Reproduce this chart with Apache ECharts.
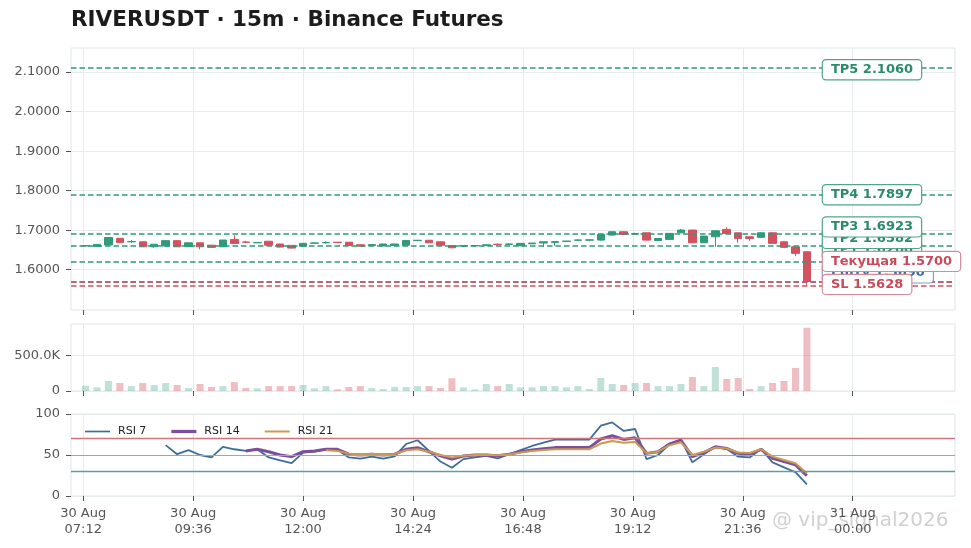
<!DOCTYPE html>
<html lang="ru">
<head>
    <meta charset="UTF-8">
    <title>RIVERUSDT 15m</title>
    <script src="https://cdn.jsdelivr.net/npm/echarts@6/dist/echarts.min.js"></script>
    <style>
        html, body { margin: 0; padding: 0; background: #ffffff; }
        #main { width: 971px; height: 548px; }
    </style>
</head>
<body>
<div id="main"></div>
<script>
    // candle open times, 30 Aug (15m)
    const times = ['07:15','07:30','07:45','08:00','08:15','08:30','08:45','09:00','09:15','09:30','09:45','10:00',
        '10:15','10:30','10:45','11:00','11:15','11:30','11:45','12:00','12:15','12:30','12:45','13:00',
        '13:15','13:30','13:45','14:00','14:15','14:30','14:45','15:00','15:15','15:30','15:45','16:00',
        '16:15','16:30','16:45','17:00','17:15','17:30','17:45','18:00','18:15','18:30','18:45','19:00',
        '19:15','19:30','19:45','20:00','20:15','20:30','20:45','21:00','21:15','21:30','21:45','22:00',
        '22:15','22:30','22:45','23:00'];

    const opens = [1.6600,1.6590,1.6625,1.6795,1.6705,1.6705,1.6580,1.6600,1.6735,1.6585,1.6680,1.6620,
        1.6580,1.6765,1.6700,1.6680,1.6720,1.6650,1.6615,1.6592,1.6668,1.6680,1.6695,1.6695,
        1.6630,1.6610,1.6600,1.6610,1.6620,1.6735,1.6745,1.6705,1.6610,1.6595,1.6600,1.6610,
        1.6645,1.6640,1.6605,1.6655,1.6675,1.6690,1.6715,1.6745,1.6748,1.6749,1.6876,1.6960,
        1.6900,1.6934,1.6740,1.6767,1.6934,1.7003,1.6681,1.6833,1.7020,1.6934,1.6833,1.6818,
        1.6934,1.6706,1.6580,1.6453];
    const highs = [1.6625,1.6650,1.6825,1.6800,1.6750,1.6710,1.6650,1.6740,1.6740,1.6690,1.6685,1.6625,
        1.6755,1.6875,1.6730,1.6695,1.6725,1.6655,1.6620,1.6670,1.6685,1.6720,1.6700,1.6700,
        1.6635,1.6640,1.6655,1.6655,1.6745,1.6750,1.6750,1.6710,1.6615,1.6615,1.6615,1.6635,
        1.6665,1.6670,1.6670,1.6680,1.6710,1.6715,1.6728,1.6770,1.6765,1.6905,1.6975,1.6975,
        1.6935,1.6940,1.6800,1.6925,1.7030,1.7010,1.6855,1.6995,1.7071,1.6940,1.6840,1.6940,
        1.6940,1.6710,1.6585,1.6460];
    const lows = [1.6590,1.6580,1.6620,1.6680,1.6680,1.6575,1.6555,1.6595,1.6575,1.6580,1.6515,1.6555,
        1.6575,1.6660,1.6680,1.6675,1.6615,1.6565,1.6535,1.6585,1.6665,1.6660,1.6680,1.6605,
        1.6590,1.6605,1.6595,1.6605,1.6615,1.6730,1.6675,1.6615,1.6540,1.6590,1.6595,1.6605,
        1.6615,1.6625,1.6600,1.6650,1.6580,1.6610,1.6712,1.6730,1.6720,1.6735,1.6870,1.6880,
        1.6885,1.6745,1.6720,1.6760,1.6925,1.6675,1.6675,1.6580,1.6910,1.6681,1.6732,1.6810,
        1.6660,1.6560,1.6344,1.5610];
    const closes = [1.6610,1.6640,1.6815,1.6685,1.6715,1.6580,1.6645,1.6735,1.6580,1.6680,1.6580,1.6565,
        1.6750,1.6665,1.6695,1.6690,1.6620,1.6572,1.6547,1.6666,1.6678,1.6690,1.6685,1.6610,
        1.6595,1.6635,1.6650,1.6650,1.6740,1.6745,1.6680,1.6620,1.6555,1.6610,1.6612,1.6630,
        1.6635,1.6650,1.6666,1.6675,1.6706,1.6710,1.6725,1.6752,1.6755,1.6894,1.6960,1.6890,
        1.6915,1.6749,1.6790,1.6919,1.7003,1.6681,1.6850,1.6985,1.6919,1.6792,1.6792,1.6934,
        1.6666,1.6565,1.6413,1.5700];

    const volumes = [75000,52000,142000,113000,70000,113000,85000,113000,85000,42000,99000,57000,
        70000,127000,42000,38000,70000,70000,70000,85000,38000,70000,23000,57000,
        70000,42000,28000,57000,57000,70000,70000,42000,180000,50000,23000,99000,
        70000,99000,52000,52000,70000,70000,52000,70000,28000,184000,99000,85000,
        113000,113000,70000,70000,99000,198000,70000,340000,170000,184000,28000,70000,
        113000,142000,326000,897000];

    const rsi7 = [null,null,null,null,null,null,null,62,51,56,50,47,
        60,57,55,57,47,43.5,40,53,54,56.5,56.5,47,
        45.5,48,45.5,48.4,63.4,68,55,42,34.5,45,47,49,
        46,51,56,61,65,68.7,68.7,68.7,68.7,85.7,89.8,79.3,
        81.7,45,50,63,69,41,51,60,57.3,48,47,57.3,
        41,35,29,14.3];
    const rsi14 = [null,null,null,null,null,null,null,null,null,null,null,null,
        null,null,55,57,54,50,48,54,55,57,57,51,
        50,51,50,51,57,59,54,49,45,48.8,50,50,
        49,51,54,56,57.7,59,59,59,59,69.5,73.5,69,
        71,52,54,63.4,68,48,53,60,58,52,51,57,
        46,42,38,24.8];
    const rsi21 = [null,null,null,null,null,null,null,null,null,null,null,null,
        null,null,null,null,null,null,null,null,null,55.7,55,51.6,
        51,51.2,51,51.2,55.7,57,54,50,47,49,50,50.4,
        49.7,51,53,55,56,57,57,57,57,64,67,65,
        66,52,54,62,65.5,50,54,59,58,53,52.5,57,
        48,44,40,27.7];
    const rsiLevels = [70, 50, 30];

    // trade levels, listed in drawing order
    const levelNames = ['TP1', 'Entry', 'TP2', 'TP3', 'TP4', 'TP5', 'Текущая', 'SL'];
    const levelValues = [1.6200, 1.5690, 1.6582, 1.6923, 1.7897, 2.1060, 1.5700, 1.5628];

    // x ticks: minutes from 30 Aug 00:00
    const xTickValues = [432, 576, 720, 864, 1008, 1152, 1296, 1440];
    const xTickLabels = ['30 Aug\n07:12', '30 Aug\n09:36', '30 Aug\n12:00', '30 Aug\n14:24',
        '30 Aug\n16:48', '30 Aug\n19:12', '30 Aug\n21:36', '31 Aug\n00:00'];
    const priceTicks = [1.6, 1.7, 1.8, 1.9, 2.0, 2.1];
    const volumeTicks = [0, 500000];
    const rsiTicks = [0, 50, 100];

    const GREEN = '#2f9b7b', RED = '#d4515f', BLUE = '#4a78b0';
    const GRID_LINE = '#e6ecee', BORDER = '#dfe6e9', TICK = '#555555';
    const FONT = 'DejaVu Sans';

    const toMin = t => { const p = t.split(':'); return (+p[0]) * 60 + (+p[1]); };
    const xs = times.map(toMin);
    const lastX = xs[xs.length - 1];

    const levelStyle = name => {
        if (name.indexOf('TP') === 0) return {line: GREEN, text: '#2a8a6c', border: '#4fa68b'};
        if (name === 'Entry') return {line: BLUE, text: '#3c6a9c', border: '#7f9fc4'};
        return {line: RED, text: '#c94b5b', border: '#d98a94'};
    };

    let container = document.getElementById('main');
    let chart = echarts.init(container);

    const candleData = xs.map((x, i) => [x, opens[i], closes[i], lows[i], highs[i]]);
    const volumeData = xs.map((x, i) => ({
        value: [x, volumes[i]],
        itemStyle: {color: closes[i] >= opens[i] ? 'rgba(47,155,123,0.3)' : 'rgba(212,81,95,0.38)'}
    }));
    const rsiPairs = arr => xs.map((x, i) => [x, arr[i]]).filter(p => p[1] !== null);

    const levelData = levelNames.map((n, i) => {
        const st = levelStyle(n);
        return {
            value: [lastX, levelValues[i]],
            label: {
                show: true, position: 'right', distance: 15,
                formatter: n + ' ' + levelValues[i].toFixed(4),
                color: st.text, fontSize: 13, fontWeight: 'bold', fontFamily: FONT,
                backgroundColor: '#ffffff', borderColor: st.border, borderWidth: 1.2,
                borderRadius: 3, padding: [3, 8, 3, 8], opacity: 1
            }
        };
    });

    function xAxisFor(idx) {
        return {
            type: 'value', gridIndex: idx, min: 416, max: 1574, interval: 144,
            axisLine: {show: false},
            axisTick: {show: true, length: 5, customValues: xTickValues, lineStyle: {color: TICK}},
            axisLabel: {
                show: idx === 2, customValues: xTickValues, color: '#555', fontSize: 13,
                fontFamily: FONT, lineHeight: 16, margin: 10,
                formatter: v => {
                    const k = xTickValues.indexOf(v);
                    return k < 0 ? '' : xTickLabels[k];
                }
            },
            splitLine: {show: true, lineStyle: {color: GRID_LINE, width: 1}}
        };
    }

    function yAxisFor(idx, min, max, ticks, fmt) {
        return {
            type: 'value', gridIndex: idx, min: min, max: max,
            axisLine: {show: false},
            axisTick: {show: true, length: 5, customValues: ticks, lineStyle: {color: TICK}},
            axisLabel: {customValues: ticks, color: '#555', fontSize: 13, fontFamily: FONT, margin: 11, formatter: fmt},
            splitLine: {show: true, lineStyle: {color: GRID_LINE, width: 1}}
        };
    }

    let option = {
        backgroundColor: '#ffffff',
        animation: false,
        textStyle: {fontFamily: FONT},
        title: {
            text: 'RIVERUSDT · 15m · Binance Futures',
            left: 71, top: 9, padding: 0,
            textStyle: {fontSize: 21.5, fontWeight: 'bold', color: '#1c1c1c', fontFamily: FONT}
        },
        legend: {
            data: [
                {name: 'RSI 7', icon: 'path://M0,0H25V1.7H0Z'},
                {name: 'RSI 14', icon: 'path://M0,0H25V3.2H0Z'},
                {name: 'RSI 21', icon: 'path://M0,0H25V2H0Z'}
            ],
            left: 80, top: 421, itemWidth: 25, itemHeight: 4, itemGap: 25,
            textStyle: {fontSize: 11, color: '#222', fontFamily: FONT, padding: [0, 0, 0, 3]}
        },
        grid: [
            {left: 71, right: 16, top: 48, height: 262, show: true, borderColor: BORDER, borderWidth: 1, backgroundColor: '#fff'},
            {left: 71, right: 16, top: 324, height: 67, show: true, borderColor: BORDER, borderWidth: 1, backgroundColor: '#fff'},
            {left: 71, right: 16, top: 414, height: 82, show: true, borderColor: BORDER, borderWidth: 1, backgroundColor: '#fff'}
        ],
        xAxis: [xAxisFor(0), xAxisFor(1), xAxisFor(2)],
        yAxis: [
            yAxisFor(0, 1.498, 2.161, priceTicks, v => v.toFixed(4)),
            yAxisFor(1, 0, 950000, volumeTicks, v => v === 0 ? '0' : (v / 1000).toFixed(1) + 'K'),
            yAxisFor(2, 0, 100, rsiTicks, v => String(v))
        ],
        graphic: [{
            type: 'text', left: 772, top: 511, silent: true,
            style: {text: '@ vip_signal2026', fontSize: 20, fontFamily: FONT, fill: 'rgba(170,170,170,0.55)'}
        }],
        series: [
            {
                name: 'price', type: 'candlestick', xAxisIndex: 0, yAxisIndex: 0,
                data: candleData, encode: {x: 0, y: [1, 2, 3, 4]}, barWidth: 8,
                itemStyle: {color: GREEN, color0: RED, borderColor: GREEN, borderColor0: RED, borderWidth: 1},
                markLine: {
                    silent: true, symbol: 'none', label: {show: false},
                    data: levelNames.map((n, i) => ({
                        yAxis: levelValues[i],
                        lineStyle: {color: levelStyle(n).line, type: [5.5, 3], width: 1.6}
                    }))
                }
            },
            {
                name: 'volume', type: 'bar', xAxisIndex: 1, yAxisIndex: 1,
                data: volumeData, barWidth: 7
            },
            {
                name: 'RSI 7', type: 'line', xAxisIndex: 2, yAxisIndex: 2, data: rsiPairs(rsi7),
                symbol: 'none', color: '#3d6d99', lineStyle: {width: 1.8, color: '#3d6d99'},
                markLine: {
                    silent: true, symbol: 'none', label: {show: false},
                    data: [
                        {yAxis: rsiLevels[0], lineStyle: {color: '#d0747d', type: 'solid', width: 1.4}},
                        {yAxis: rsiLevels[1], lineStyle: {color: '#93aea8', type: 'solid', width: 1}},
                        {yAxis: rsiLevels[2], lineStyle: {color: '#5f9e9b', type: 'solid', width: 1.4}}
                    ]
                }
            },
            {
                name: 'RSI 14', type: 'line', xAxisIndex: 2, yAxisIndex: 2, data: rsiPairs(rsi14),
                symbol: 'none', color: '#7d4e9c', lineStyle: {width: 3, color: '#7d4e9c'}
            },
            {
                name: 'RSI 21', type: 'line', xAxisIndex: 2, yAxisIndex: 2, data: rsiPairs(rsi21),
                symbol: 'none', color: '#c99a50', lineStyle: {width: 2, color: '#c99a50'}
            },
            {
                id: 'levels', name: 'levels', type: 'scatter', xAxisIndex: 0, yAxisIndex: 0,
                symbol: 'circle', symbolSize: 2, silent: true, z: 5,
                itemStyle: {color: 'rgba(255,255,255,0)', opacity: 1},
                data: levelData
            }
        ]
    };

    chart.setOption(option);

    // push level labels apart (from the lowest price upward)
    const labelGap = 11.5;
    const order = levelValues.map((v, i) => i).sort((a, b) => levelValues[a] - levelValues[b]);
    let prev = Infinity;
    const shifts = [];
    order.forEach(i => {
        const py = chart.convertToPixel({xAxisIndex: 0, yAxisIndex: 0}, [lastX, levelValues[i]])[1];
        const y = Math.min(py, prev - labelGap);
        shifts[i] = y - py;
        prev = y;
    });
    chart.setOption({
        series: [{
            id: 'levels',
            labelLayout: params => ({dy: shifts[params.dataIndex] || 0})
        }]
    });
</script>
</body>
</html>
